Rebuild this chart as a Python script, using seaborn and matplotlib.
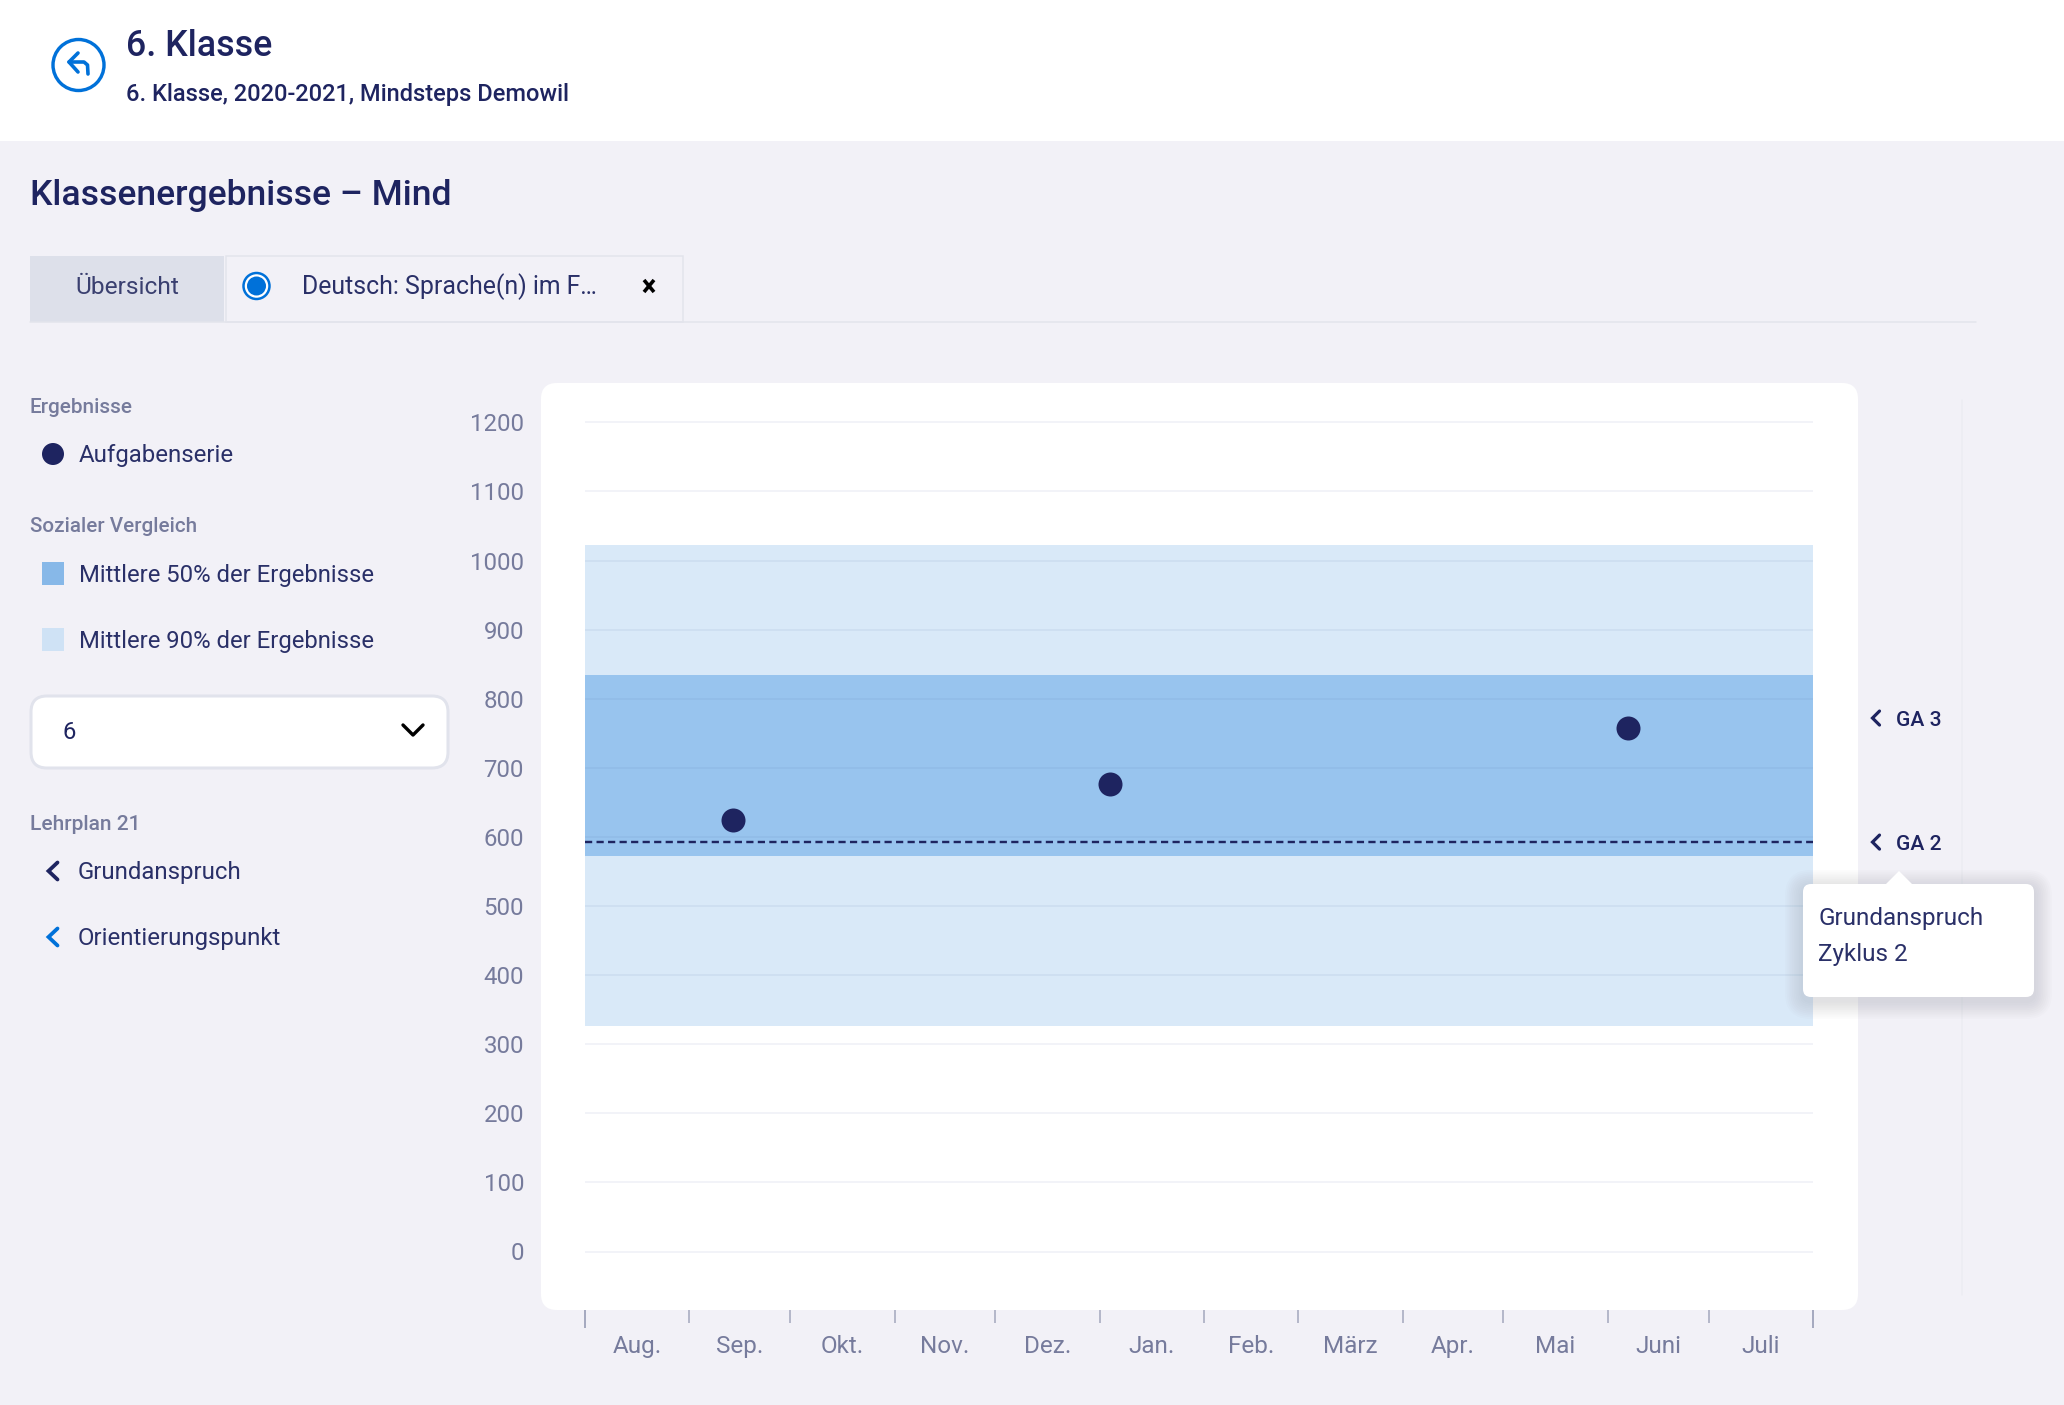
import matplotlib
matplotlib.use("Agg")
import matplotlib.pyplot as plt
import matplotlib.dates as mdates
from matplotlib.patches import FancyBboxPatch, Rectangle, Circle, Polygon
from matplotlib.lines import Line2D
import pandas as pd
import seaborn as sns

# ---- data ----
month_starts = ["2020-08-01", "2020-09-01", "2020-10-01", "2020-11-01", "2020-12-01", "2021-01-01",
                "2021-02-01", "2021-03-01", "2021-04-01", "2021-05-01", "2021-06-01", "2021-07-01", "2021-08-01"]
month_labels = ["Aug.", "Sep.", "Okt.", "Nov.", "Dez.", "Jan.", "Feb.", "März", "Apr.", "Mai", "Juni", "Juli"]
y_ticks = [0, 100, 200, 300, 400, 500, 600, 700, 800, 900, 1000, 1100, 1200]
point_dates = ["2020-09-14", "2021-01-04", "2021-06-07"]
point_values = [625, 677, 757]
band_90 = [327, 1022]
band_50 = [573, 835]
ga_names = ["GA 2", "GA 3"]
ga_values = [592.5, 772]

# ---- palette ----
BG = "#F2F1F7"
NAVY = "#1E2460"
GREY = "#767B9C"
BLUE = "#0071D9"
C50 = "#98C4EE"
C90 = "#D9E9F8"
INK = "#2A3068"

sns.set_theme(style="white")
plt.rcParams["font.family"] = ["Roboto", "DejaVu Sans"]

W, H = 2064, 1405
fig = plt.figure(figsize=(W / 100, H / 100), dpi=100, facecolor=BG)


def pixel_axes(z):
    a = fig.add_axes([0, 0, 1, 1], zorder=z)
    a.set_xlim(0, W)
    a.set_ylim(H, 0)
    a.axis("off")
    a.patch.set_alpha(0)
    return a


def px(p):
    return p * 0.72


def txt(a, x, y, s, size, color=NAVY, weight="normal", **kw):
    return a.text(x, y, s, fontsize=px(size), color=color, fontweight=weight, va="baseline", ha=kw.pop("ha", "left"), **kw)


def rrect(a, x0, y0, x1, y1, r, fc, ec="none", lw=0, alpha=1, z=1):
    p = FancyBboxPatch((x0 + r, y0 + r), x1 - x0 - 2 * r, y1 - y0 - 2 * r,
                       boxstyle=f"round,pad={r},rounding_size={r}", fc=fc, ec=ec, lw=lw, alpha=alpha, zorder=z)
    a.add_patch(p)
    return p


def chevron(a, x, y, w, h, color, lw=3.2, z=3):
    a.add_line(Line2D([x + w / 2, x - w / 2, x + w / 2], [y - h / 2, y, y + h / 2], color=color,
                      lw=px(lw), solid_capstyle="round", solid_joinstyle="miter", zorder=z))


bg = pixel_axes(0)
# header
bg.add_patch(Rectangle((0, 0), W, 140.5, fc="white", ec="none"))
bg.add_patch(Circle((78.5, 65), 25.5, fc="none", ec=BLUE, lw=px(3.4)))
bg.add_line(Line2D([78, 69, 78], [53, 62, 72], color=BLUE, lw=px(3.6), solid_capstyle="round"))
bg.add_line(Line2D([69, 84, 87.5, 88], [62, 62, 65, 74], color=BLUE, lw=px(3.6), solid_capstyle="round"))
txt(bg, 126.5, 55.5, "6. Klasse", 35.7, weight="medium")
txt(bg, 126.5, 101, "6. Klasse, 2020-2021, Mindsteps Demowil", 23.6, weight="medium")
txt(bg, 29.5, 205.5, "Klassenergebnisse – Mind", 35.5, weight="medium")

# tabs
bg.add_line(Line2D([30, 1976], [322, 322], color="#E3E4EC", lw=px(1.5)))
bg.add_patch(Rectangle((30, 256), 194, 66, fc="#DDE0EA", ec="none"))
bg.add_patch(Rectangle((225.5, 256), 457, 66, fc=BG, ec="#E3E4EC", lw=px(1.5)))
txt(bg, 127, 294, "Übersicht", 24.5, color="#3A4070", ha="center")
bg.add_patch(Circle((256.5, 286), 13, fc="white", ec=BLUE, lw=px(2.5)))
bg.add_patch(Circle((256.5, 286), 9.5, fc=BLUE, ec="none"))
txt(bg, 301.5, 294, "Deutsch: Sprache(n) im F…", 24.9, color=INK)
bg.add_line(Line2D([644, 654], [280, 292], color="black", lw=px(3.6), solid_capstyle="butt"))
bg.add_line(Line2D([654, 644], [280, 292], color="black", lw=px(3.6), solid_capstyle="butt"))

# legend panel
txt(bg, 29.5, 413, "Ergebnisse", 20.8, color=GREY, weight="medium")
bg.add_patch(Circle((53, 454), 11, fc=NAVY, ec="none"))
txt(bg, 79, 462, "Aufgabenserie", 24, color=INK)
txt(bg, 29.5, 532.5, "Sozialer Vergleich", 20.6, color=GREY, weight="medium")
bg.add_patch(Rectangle((42, 562), 22, 23, fc="#87B8E8", ec="none"))
txt(bg, 79, 582, "Mittlere 50% der Ergebnisse", 23.9, color=INK)
bg.add_patch(Rectangle((42, 628), 22, 23, fc="#CFE2F5", ec="none"))
txt(bg, 79, 648, "Mittlere 90% der Ergebnisse", 23.9, color=INK)
rrect(bg, 31, 696, 448, 768, 16, "white", ec="#E1E3EC", lw=px(3))
txt(bg, 62.5, 739, "6", 23.9)
bg.add_line(Line2D([403, 413, 423], [725, 735, 725], color="black", lw=px(3.4), solid_capstyle="round"))
txt(bg, 29.5, 830.5, "Lehrplan 21", 21, color=GREY, weight="medium")
chevron(bg, 53, 871, 9, 17, NAVY, lw=3.8)
txt(bg, 78, 879.5, "Grundanspruch", 24, color=INK)
chevron(bg, 53, 937, 9, 17, BLUE, lw=3.8)
txt(bg, 78, 945, "Orientierungspunkt", 24, color=INK)

# chart card + faint rule on the right
rrect(bg, 541, 383, 1858, 1310, 16, "white")
bg.add_line(Line2D([1962, 1962], [400, 1295], color="#ECECF3", lw=px(1.5)))

# ---- chart ----
L, R, T, B = 585, 1813, 400, 1310
ax = fig.add_axes([L / W, 1 - B / H, (R - L) / W, (B - T) / H], zorder=1)
ax.patch.set_alpha(0)
Y0 = 1251.5
K = 0.691
ax.set_ylim((Y0 - B) / K, (Y0 - T) / K)

dates = pd.to_datetime(month_starts)
x0, x1 = dates[0], dates[-1]
ax.fill_between([x0, x1], band_90[0], band_90[1], color=C90, lw=0, zorder=1)
ax.fill_between([x0, x1], band_50[0], band_50[1], color=C50, lw=0, zorder=1.1)

points = pd.DataFrame({"date": pd.to_datetime(point_dates), "value": point_values})
line = pd.DataFrame({"date": [x0, x1], "value": [ga_values[0]] * 2})
sns.lineplot(data=line, x="date", y="value", ax=ax, color=NAVY, lw=px(2.4), linestyle=(0, (3.0, 1.8)), zorder=3, errorbar=None)
sns.scatterplot(data=points, x="date", y="value", ax=ax, color=NAVY, s=px(24) ** 2, linewidth=0, zorder=5)

ax.set_xlim(x0, x1)
ax.set_xlabel("")
ax.set_ylabel("")
for s in ax.spines.values():
    s.set_visible(False)

ax.set_yticks(y_ticks)
ax.set_yticklabels([str(v) for v in y_ticks])
ax.tick_params(axis="y", length=0, pad=px(61), labelsize=px(24), labelcolor=GREY)
ax.grid(axis="y", color="#47639F", alpha=0.085, lw=px(1.6))
ax.grid(axis="x", visible=False)
ax.set_axisbelow("line")

nums = mdates.date2num(dates)
ax.set_xticks(nums)
ax.set_xticklabels([])
ax.set_xticks((nums[:-1] + nums[1:]) / 2, minor=True)
ax.set_xticklabels(month_labels, minor=True)
ax.tick_params(axis="x", which="major", length=px(13), width=px(1.6), color="#A6AAC0", bottom=True)
ax.tick_params(axis="x", which="minor", length=0, pad=px(25), labelsize=px(24.2), labelcolor=GREY, bottom=False)
major = ax.xaxis.get_major_ticks()
for t in (major[0], major[-1]):
    t.tick1line.set_markersize(px(18))
    t.tick1line.set_color(GREY)
    t.tick1line.set_markeredgewidth(px(2))
for t in ax.xaxis.get_major_ticks()[2:4]:
    t.tick1line.set_color(GREY)

# ---- overlay: threshold markers, tooltip ----
ov = pixel_axes(2)
fig.canvas.draw()
for name, val in zip(ga_names, ga_values):
    py = H - ax.transData.transform((mdates.date2num(x0), val))[1]
    chevron(ov, 1876, py, 7, 14, NAVY, lw=3.2)
    txt(ov, 1895.5, py + 8, name, 21, weight="medium")

for i in range(10, 0, -1):
    g = i * 1.8
    rrect(ov, 1803 - g, 884 - g + 4, 2034 + g, 997 + g + 4, 8 + g, "#30343F", alpha=0.012, z=4)
ov.add_patch(Polygon([(1885, 885), (1899, 871), (1913, 885)], closed=True, fc="white", ec="none", zorder=5))
rrect(ov, 1803, 884, 2034, 997, 8, "white", z=5)
txt(ov, 1818.5, 925, "Grundanspruch", 24.2, color=INK, zorder=6)
txt(ov, 1818.5, 960.5, "Zyklus 2", 24.2, color=INK, zorder=6)

fig.savefig("out.png", dpi=100, facecolor=fig.get_facecolor())
